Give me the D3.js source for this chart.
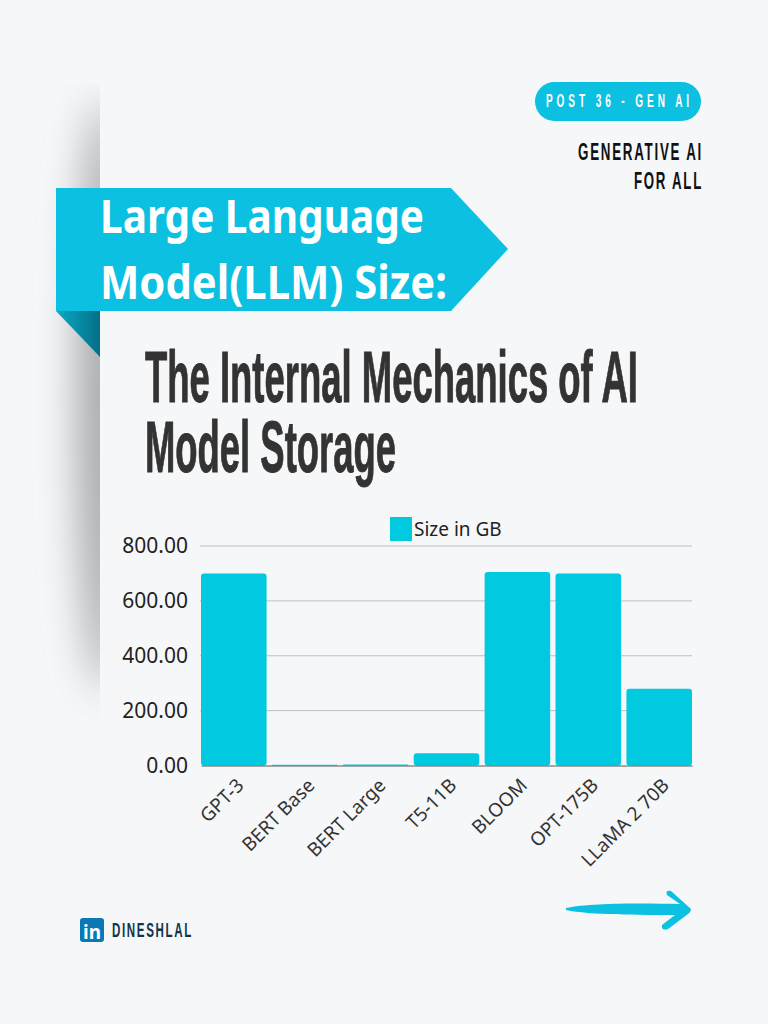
<!DOCTYPE html>
<html>
<head>
<meta charset="utf-8">
<script src="https://cdn.jsdelivr.net/npm/d3@7"></script>
<style>
html, body { margin: 0; padding: 0; background: #f6f7f9; }
svg { display: block; }
</style>
</head>
<body>
<div id="chart"></div>
<script>
const categories = ['GPT-3', 'BERT Base', 'BERT Large', 'T5-11B', 'BLOOM', 'OPT-175B', 'LLaMA 2 70B'];
const sizes = [700, 3, 4, 45, 705, 700, 280];
const yTicks = [0, 200, 400, 600, 800];
const seriesName = 'Size in GB';

const width = 768;
const height = 1024;
const cyan = '#0bc0e0';
const barColor = '#00c9e0';
const sansFont = '"Noto Sans", "Open Sans", sans-serif';
const narrowFont = '"Liberation Sans", sans-serif';

const svg = d3.select('#chart').append('svg')
    .attr('width', width)
    .attr('height', height)
    .attr('viewBox', `0 0 ${width} ${height}`);

const defs = svg.append('defs');
defs.append('filter').attr('id', 'blur')
    .attr('x', '-150%').attr('y', '-50%').attr('width', '400%').attr('height', '200%')
    .append('feGaussianBlur').attr('stdDeviation', 20);
defs.append('clipPath').attr('id', 'left-of-page')
    .append('rect').attr('x', 0).attr('y', 84).attr('width', 100).attr('height', 680);
const foldGrad = defs.append('linearGradient').attr('id', 'fold')
    .attr('x1', 0).attr('x2', 1).attr('y1', 0).attr('y2', 0);
foldGrad.append('stop').attr('offset', '0%').attr('stop-color', '#0aa9c6');
foldGrad.append('stop').attr('offset', '100%').attr('stop-color', '#056f88');

svg.append('rect').attr('width', width).attr('height', height).attr('fill', '#f6f7f9');

// page shadow left of the banner fold
svg.append('g').attr('clip-path', 'url(#left-of-page)')
    .append('ellipse')
    .attr('cx', 104).attr('cy', 395).attr('rx', 26).attr('ry', 295)
    .attr('fill', '#a2a4a7')
    .attr('filter', 'url(#blur)');

// banner
svg.append('polygon')
    .attr('points', '56,311 100,311 100,357')
    .attr('fill', 'url(#fold)');
svg.append('polygon')
    .attr('points', '56,188 451,188 508,249 451,311 56,311')
    .attr('fill', cyan);

const fitText = (str, x, y, w, size, family, weight, fill, spacing = 0, stroke = 0) => svg.append('text')
    .attr('x', x).attr('y', y)
    .attr('textLength', w).attr('lengthAdjust', 'spacingAndGlyphs')
    .attr('font-family', family).attr('font-size', size).attr('font-weight', weight)
    .attr('letter-spacing', spacing)
    .attr('fill', fill)
    .attr('stroke', stroke ? fill : 'none').attr('stroke-width', stroke)
    .text(str);

fitText('Large Language', 100, 233, 324, 46, sansFont, 700, '#fff');
fitText('Model(LLM) Size:', 100, 299, 347, 46, sansFont, 700, '#fff');

fitText('The Internal Mechanics of AI', 145, 402, 493, 72, narrowFont, 700, '#333', 0, 1);
fitText('Model Storage', 145, 472, 251, 72, narrowFont, 700, '#333', 0, 1);

// top right tag
svg.append('rect')
    .attr('x', 535).attr('y', 82).attr('width', 166).attr('height', 39).attr('rx', 19.5)
    .attr('fill', cyan);
fitText('POST 36 - GEN AI', 546, 107, 147, 18, narrowFont, 700, '#fff', 7);
fitText('GENERATIVE AI', 578, 160, 125, 23, narrowFont, 700, '#111', 3);
fitText('FOR ALL', 634, 189, 69, 23, narrowFont, 700, '#111', 3);

// chart
const x = d3.scaleBand().domain(categories).range([201, 692]).paddingInner(0.075).paddingOuter(0);
const y = d3.scaleLinear().domain([0, 800]).range([765.5, 546]);

const yAxis = svg.append('g')
    .attr('transform', 'translate(192,0)')
    .call(d3.axisLeft(y).tickValues(yTicks).tickFormat(d3.format('.2f')).tickSize(0).tickPadding(4));
yAxis.select('.domain').remove();
yAxis.selectAll('text')
    .attr('font-family', sansFont).attr('font-size', 21).attr('fill', '#222');

svg.append('g').selectAll('line').data(yTicks.slice(1)).join('line')
    .attr('x1', 200).attr('x2', 692)
    .attr('y1', d => y(d)).attr('y2', d => y(d))
    .attr('stroke', '#bdbfc1').attr('stroke-width', 1);

svg.append('g').selectAll('rect').data(categories).join('rect')
    .attr('x', d => x(d))
    .attr('width', x.bandwidth())
    .attr('y', (d, i) => y(sizes[i]))
    .attr('height', (d, i) => y(0) - y(sizes[i]))
    .attr('rx', (d, i) => Math.min(3, (y(0) - y(sizes[i])) / 2))
    .attr('fill', barColor);

const xAxis = svg.append('g')
    .attr('transform', `translate(0,${y(0)})`)
    .call(d3.axisBottom(x).tickSize(0));
xAxis.select('.domain').attr('stroke', '#555').attr('stroke-width', 1);
xAxis.selectAll('text')
    .attr('font-family', sansFont).attr('font-size', 19).attr('fill', '#333')
    .attr('text-anchor', 'end')
    .attr('dy', 0)
    .attr('transform', 'translate(9,19) rotate(-45)');

// legend
svg.append('rect').attr('x', 390).attr('y', 517).attr('width', 22).attr('height', 24).attr('fill', barColor);
svg.append('text').attr('x', 414).attr('y', 536)
    .attr('font-family', sansFont).attr('font-size', 19).attr('fill', '#222')
    .text(seriesName);

// footer
svg.append('rect').attr('x', 80).attr('y', 918).attr('width', 24).attr('height', 24).attr('rx', 3).attr('fill', '#0a78b5');
fitText('in', 83, 939, 18, 20, sansFont, 700, '#fff');
fitText('DINESHLAL', 112, 937, 81, 21, narrowFont, 700, '#12344a', 3);

svg.append('path')
    .attr('d', 'M566,908 C590,903 640,903 680,904 L667,895 Q665,890 671,891 L691,909 Q691,912 688,914 L668,929 Q661,931 662,925 L675,915 C640,915 590,915 566,910 Z')
    .attr('fill', cyan);
</script>
</body>
</html>
